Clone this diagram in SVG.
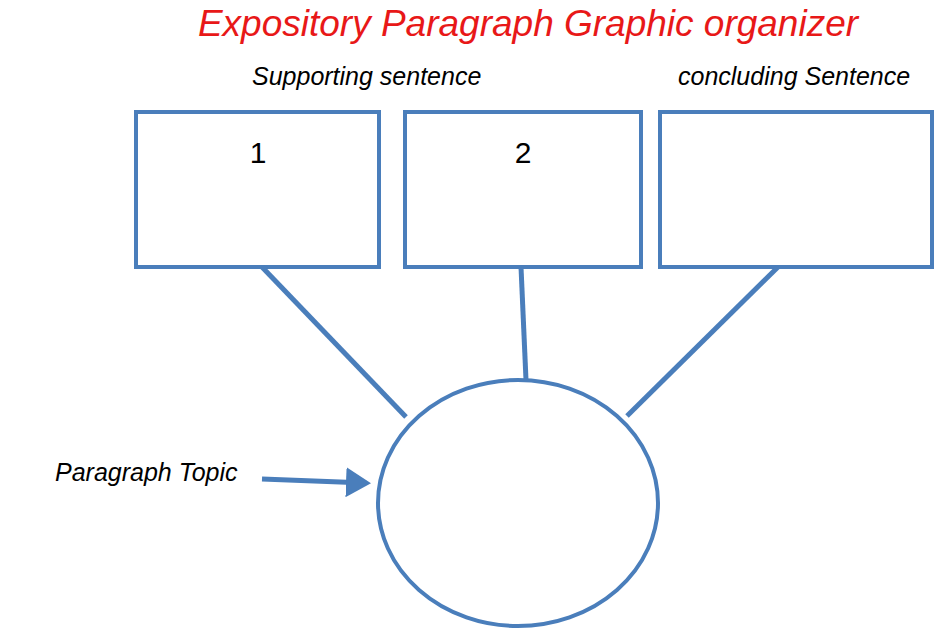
<svg xmlns="http://www.w3.org/2000/svg" width="952" height="631" viewBox="0 0 952 631">
<style>
.b{fill:#fff;stroke:#4a7ebb;stroke-width:4}
.c{stroke:#4a7ebb;stroke-width:5;fill:none}
.t{font-family:"Liberation Sans",Arial,sans-serif;font-style:italic;font-size:25px;fill:#000}
.n{font-family:"Liberation Sans",Arial,sans-serif;font-size:30px;fill:#000;text-anchor:middle}
</style>
<defs><marker id="a" markerWidth="6" markerHeight="6" refX="4" refY="3" orient="auto" markerUnits="strokeWidth"><path d="M0,0L5,3L0,6z" fill="#4a7ebb"/></marker></defs>
<text x="528" y="36" text-anchor="middle" style="font-family:'Liberation Sans',Arial,sans-serif;font-style:italic;font-size:37px;fill:#e81818">Expository Paragraph Graphic organizer</text>
<text class="t" x="252" y="85">Supporting sentence</text>
<text class="t" x="678" y="85">concluding Sentence</text>
<text class="t" x="55" y="481">Paragraph Topic</text>
<g id="box1"><rect class="b" x="136" y="112" width="243" height="155"/><text class="n" x="258" y="163">1</text></g>
<g id="box2"><rect class="b" x="405" y="112" width="236" height="155"/><text class="n" x="523" y="163">2</text></g>
<g id="box3"><rect class="b" x="660" y="112" width="272" height="155"/></g>
<g id="topic"><ellipse class="b" cx="518" cy="503" rx="140" ry="123"/></g>
<g id="connectors">
<line class="c" x1="262" y1="267" x2="406" y2="417"/>
<line class="c" x1="521" y1="267" x2="526" y2="380"/>
<line class="c" x1="778" y1="267" x2="627" y2="416"/>
<line class="c" x1="262" y1="479" x2="366" y2="483" marker-end="url(#a)"/>
</g>
</svg>
